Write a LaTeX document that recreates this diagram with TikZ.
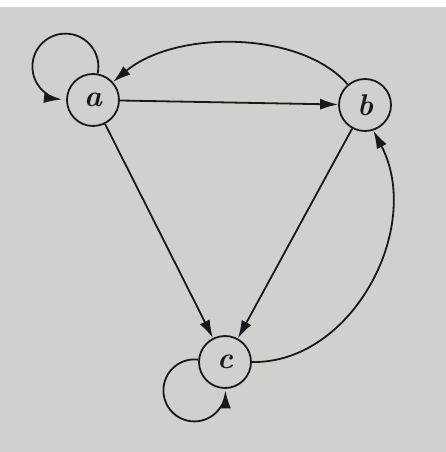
\documentclass[tikz,border=0pt]{standalone}
\usetikzlibrary{arrows.meta}
\definecolor{bgphoto}{RGB}{208,208,206}
\definecolor{inkc}{RGB}{25,25,28}
\begin{document}
\begin{tikzpicture}[x=1pt,y=1pt,
  vtx/.style={circle,draw=inkc,line width=1.8pt,minimum size=52pt,inner sep=0pt,font=\fontsize{30}{30}\selectfont\bfseries\itshape,text=inkc},
  edge/.style={draw=inkc,line width=1.8pt,-{Latex[length=18pt,width=11pt]}}]
\useasboundingbox (0,0) rectangle (446,452);
\fill[bgphoto] (0,0) rectangle (446,445);
\fill[white] (0,445) rectangle (446,452);
\node[vtx] (a) at (93,352) {a};
\node[vtx] (b) at (365,347) {b};
\node[vtx] (c) at (225,90) {c};
\draw[edge] (a) -- (b);
\draw[edge] (a) -- (c);
\draw[edge] (b) -- (c);
\draw[edge] (b.130) .. controls (300,422) and (175,422) .. (a.42);
\draw[edge] (c.0) .. controls (352,88) and (424,225) .. (b.-72);
\draw[edge] (a.80) arc[start angle=-12, end angle=264, radius=33];
\draw[edge] (c.175) arc[start angle=83, end angle=360, radius=31];
\end{tikzpicture}
\end{document}
